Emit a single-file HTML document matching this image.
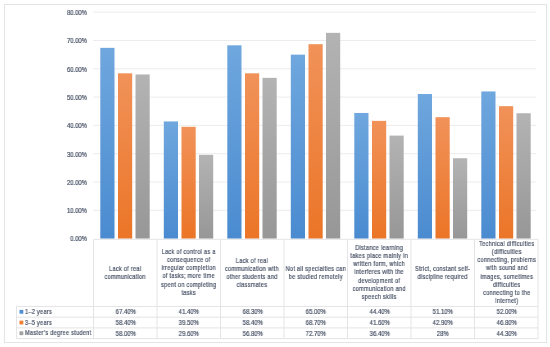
<!DOCTYPE html><html><head><meta charset="utf-8"><style>
html,body{margin:0;padding:0;background:#fff;}
body{width:550px;height:347px;position:relative;overflow:hidden;font-family:"Liberation Sans",sans-serif;color:#465064;}
svg{position:absolute;left:0;top:0;}
.t,.hd>div{letter-spacing:0.3px;}
.t,.yl,.hd>div,.c{will-change:transform;-webkit-text-stroke:0.2px #465064;}
.t{position:absolute;font-size:6.9px;line-height:8px;white-space:nowrap;transform:scaleX(0.82);transform-origin:0 50%;}
.yl{position:absolute;font-size:6.9px;line-height:8px;white-space:nowrap;text-align:right;width:40px;transform:scaleX(0.86);transform-origin:100% 50%;}
.hd{position:absolute;font-size:6.9px;line-height:8.15px;text-align:center;display:flex;flex-direction:column;justify-content:center;align-items:center;white-space:nowrap;}
.hd>div{transform:scaleX(0.82);}
.c{position:absolute;font-size:6.9px;text-align:center;white-space:nowrap;transform:scaleX(0.86);}
</style></head><body>
<svg width="550" height="347" viewBox="0 0 550 347">
<defs>
<linearGradient id="g0" x1="0" y1="0" x2="0" y2="1"><stop offset="0" stop-color="#6fa7de"/><stop offset="1" stop-color="#4a8bd0"/></linearGradient>
<linearGradient id="g1" x1="0" y1="0" x2="0" y2="1"><stop offset="0" stop-color="#f19259"/><stop offset="1" stop-color="#eb7527"/></linearGradient>
<linearGradient id="g2" x1="0" y1="0" x2="0" y2="1"><stop offset="0" stop-color="#b3b3b3"/><stop offset="1" stop-color="#979797"/></linearGradient>
</defs>
<rect x="4.5" y="4.5" width="542" height="338" fill="none" stroke="#e4e4e4" stroke-width="1"/>
<line x1="93" x2="536" y1="210.30" y2="210.30" stroke="#ececee" stroke-width="1"/>
<line x1="93" x2="536" y1="182.00" y2="182.00" stroke="#ececee" stroke-width="1"/>
<line x1="93" x2="536" y1="153.70" y2="153.70" stroke="#ececee" stroke-width="1"/>
<line x1="93" x2="536" y1="125.40" y2="125.40" stroke="#ececee" stroke-width="1"/>
<line x1="93" x2="536" y1="97.10" y2="97.10" stroke="#ececee" stroke-width="1"/>
<line x1="93" x2="536" y1="68.80" y2="68.80" stroke="#ececee" stroke-width="1"/>
<line x1="93" x2="536" y1="40.50" y2="40.50" stroke="#ececee" stroke-width="1"/>
<line x1="93" x2="536" y1="12.20" y2="12.20" stroke="#ececee" stroke-width="1"/>
<rect x="100.30" y="47.86" width="14.2" height="190.74" fill="url(#g0)"/>
<rect x="163.80" y="121.44" width="14.2" height="117.16" fill="url(#g0)"/>
<rect x="227.30" y="45.31" width="14.2" height="193.29" fill="url(#g0)"/>
<rect x="290.80" y="54.65" width="14.2" height="183.95" fill="url(#g0)"/>
<rect x="354.30" y="112.95" width="14.2" height="125.65" fill="url(#g0)"/>
<rect x="417.80" y="93.99" width="14.2" height="144.61" fill="url(#g0)"/>
<rect x="481.30" y="91.44" width="14.2" height="147.16" fill="url(#g0)"/>
<rect x="118.00" y="73.33" width="14.2" height="165.27" fill="url(#g1)"/>
<rect x="181.50" y="126.81" width="14.2" height="111.78" fill="url(#g1)"/>
<rect x="245.00" y="73.33" width="14.2" height="165.27" fill="url(#g1)"/>
<rect x="308.50" y="44.18" width="14.2" height="194.42" fill="url(#g1)"/>
<rect x="372.00" y="120.87" width="14.2" height="117.73" fill="url(#g1)"/>
<rect x="435.50" y="117.19" width="14.2" height="121.41" fill="url(#g1)"/>
<rect x="499.00" y="106.16" width="14.2" height="132.44" fill="url(#g1)"/>
<rect x="135.50" y="74.46" width="14.2" height="164.14" fill="url(#g2)"/>
<rect x="199.00" y="154.83" width="14.2" height="83.77" fill="url(#g2)"/>
<rect x="262.50" y="77.86" width="14.2" height="160.74" fill="url(#g2)"/>
<rect x="326.00" y="32.86" width="14.2" height="205.74" fill="url(#g2)"/>
<rect x="389.50" y="135.59" width="14.2" height="103.01" fill="url(#g2)"/>
<rect x="453.00" y="158.23" width="14.2" height="80.37" fill="url(#g2)"/>
<rect x="516.50" y="113.23" width="14.2" height="125.37" fill="url(#g2)"/>
<line x1="93.5" x2="538" y1="239.3" y2="239.3" stroke="#e4e4e6" stroke-width="1"/>
<line x1="16.5" x2="538" y1="306.45" y2="306.45" stroke="#e4e4e6" stroke-width="1"/>
<line x1="16.5" x2="538" y1="317.2" y2="317.2" stroke="#e4e4e6" stroke-width="1"/>
<line x1="16.5" x2="538" y1="327.9" y2="327.9" stroke="#e4e4e6" stroke-width="1"/>
<line x1="16.5" x2="538" y1="338.6" y2="338.6" stroke="#e4e4e6" stroke-width="1"/>
<line x1="16.5" x2="16.5" y1="306.45" y2="338.6" stroke="#e4e4e6" stroke-width="1"/>
<line x1="93.5" x2="93.5" y1="239.3" y2="338.6" stroke="#e4e4e6" stroke-width="1"/>
<line x1="157.0" x2="157.0" y1="239.3" y2="338.6" stroke="#e4e4e6" stroke-width="1"/>
<line x1="220.5" x2="220.5" y1="239.3" y2="338.6" stroke="#e4e4e6" stroke-width="1"/>
<line x1="284.0" x2="284.0" y1="239.3" y2="338.6" stroke="#e4e4e6" stroke-width="1"/>
<line x1="347.5" x2="347.5" y1="239.3" y2="338.6" stroke="#e4e4e6" stroke-width="1"/>
<line x1="411.0" x2="411.0" y1="239.3" y2="338.6" stroke="#e4e4e6" stroke-width="1"/>
<line x1="474.5" x2="474.5" y1="239.3" y2="338.6" stroke="#e4e4e6" stroke-width="1"/>
<line x1="538.0" x2="538.0" y1="239.3" y2="338.6" stroke="#e4e4e6" stroke-width="1"/>
<rect x="19.5" y="309.93" width="3.8" height="3.8" fill="#4f8fd4"/>
<rect x="19.5" y="320.65" width="3.8" height="3.8" fill="#ed7d31"/>
<rect x="19.5" y="331.35" width="3.8" height="3.8" fill="#a0a0a0"/>
</svg>
<div class="yl" style="left:47px;top:235.40px;">0.00%</div>
<div class="yl" style="left:47px;top:207.10px;">10.00%</div>
<div class="yl" style="left:47px;top:178.80px;">20.00%</div>
<div class="yl" style="left:47px;top:150.50px;">30.00%</div>
<div class="yl" style="left:47px;top:122.20px;">40.00%</div>
<div class="yl" style="left:47px;top:93.90px;">50.00%</div>
<div class="yl" style="left:47px;top:65.60px;">60.00%</div>
<div class="yl" style="left:47px;top:37.30px;">70.00%</div>
<div class="yl" style="left:47px;top:9.00px;">80.00%</div>
<div class="hd" style="left:93.50px;top:239.30px;width:63.5px;height:67.15px;"><div>Lack of real<br>communication</div></div>
<div class="hd" style="left:157.00px;top:239.30px;width:63.5px;height:67.15px;"><div>Lack of control as a<br>consequence of<br>irregular completion<br>of tasks; more time<br>spent on completing<br>tasks</div></div>
<div class="hd" style="left:220.50px;top:239.30px;width:63.5px;height:67.15px;"><div>Lack of real<br>communication with<br>other students and<br>classmates</div></div>
<div class="hd" style="left:284.00px;top:239.30px;width:63.5px;height:67.15px;"><div>Not all specialties can<br>be studied remotely</div></div>
<div class="hd" style="left:347.50px;top:239.30px;width:63.5px;height:67.15px;"><div>Distance learning<br>takes place mainly in<br>written form, which<br>interferes with the<br>development of<br>communication and<br>speech skills</div></div>
<div class="hd" style="left:411.00px;top:239.30px;width:63.5px;height:67.15px;"><div>Strict, constant self-<br>discipline required</div></div>
<div class="hd" style="left:474.50px;top:239.30px;width:63.5px;height:67.15px;"><div>Technical difficulties<br>(difficulties<br>connecting, problems<br>with sound and<br>images, sometimes<br>difficulties<br>connecting to the<br>Internet)</div></div>
<div class="t" style="left:25px;top:307.95px;">1–2 years</div>
<div class="c" style="left:93.50px;top:307.25px;width:63.5px;height:10.75px;line-height:10.75px;">67.40%</div>
<div class="c" style="left:157.00px;top:307.25px;width:63.5px;height:10.75px;line-height:10.75px;">41.40%</div>
<div class="c" style="left:220.50px;top:307.25px;width:63.5px;height:10.75px;line-height:10.75px;">68.30%</div>
<div class="c" style="left:284.00px;top:307.25px;width:63.5px;height:10.75px;line-height:10.75px;">65.00%</div>
<div class="c" style="left:347.50px;top:307.25px;width:63.5px;height:10.75px;line-height:10.75px;">44.40%</div>
<div class="c" style="left:411.00px;top:307.25px;width:63.5px;height:10.75px;line-height:10.75px;">51.10%</div>
<div class="c" style="left:474.50px;top:307.25px;width:63.5px;height:10.75px;line-height:10.75px;">52.00%</div>
<div class="t" style="left:25px;top:318.70px;">3–5 years</div>
<div class="c" style="left:93.50px;top:318.00px;width:63.5px;height:10.70px;line-height:10.70px;">58.40%</div>
<div class="c" style="left:157.00px;top:318.00px;width:63.5px;height:10.70px;line-height:10.70px;">39.50%</div>
<div class="c" style="left:220.50px;top:318.00px;width:63.5px;height:10.70px;line-height:10.70px;">58.40%</div>
<div class="c" style="left:284.00px;top:318.00px;width:63.5px;height:10.70px;line-height:10.70px;">68.70%</div>
<div class="c" style="left:347.50px;top:318.00px;width:63.5px;height:10.70px;line-height:10.70px;">41.60%</div>
<div class="c" style="left:411.00px;top:318.00px;width:63.5px;height:10.70px;line-height:10.70px;">42.90%</div>
<div class="c" style="left:474.50px;top:318.00px;width:63.5px;height:10.70px;line-height:10.70px;">46.80%</div>
<div class="t" style="left:25px;top:329.40px;">Master’s degree student</div>
<div class="c" style="left:93.50px;top:328.70px;width:63.5px;height:10.70px;line-height:10.70px;">58.00%</div>
<div class="c" style="left:157.00px;top:328.70px;width:63.5px;height:10.70px;line-height:10.70px;">29.60%</div>
<div class="c" style="left:220.50px;top:328.70px;width:63.5px;height:10.70px;line-height:10.70px;">56.80%</div>
<div class="c" style="left:284.00px;top:328.70px;width:63.5px;height:10.70px;line-height:10.70px;">72.70%</div>
<div class="c" style="left:347.50px;top:328.70px;width:63.5px;height:10.70px;line-height:10.70px;">36.40%</div>
<div class="c" style="left:411.00px;top:328.70px;width:63.5px;height:10.70px;line-height:10.70px;">28%</div>
<div class="c" style="left:474.50px;top:328.70px;width:63.5px;height:10.70px;line-height:10.70px;">44.30%</div>
</body></html>
